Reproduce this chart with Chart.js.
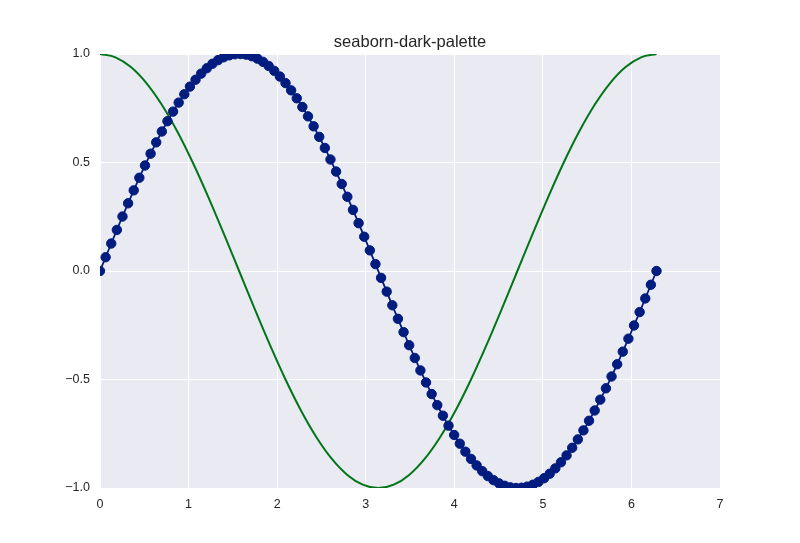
<!DOCTYPE html>
<html>
<head>
<meta charset="utf-8">
<script src="https://cdn.jsdelivr.net/npm/chart.js@4/dist/chart.umd.min.js"></script>
<style>
  html, body { margin: 0; padding: 0; background: #ffffff; }
  #wrap { width: 800px; height: 543px; }
</style>
</head>
<body>
<div id="wrap"><canvas id="chartSin" width="800" height="543"></canvas></div>
<script>
// ── DATA ─────────────────────────────────────────────────────────
const titleText = "seaborn-dark-palette";

const xTickLabels = ["0", "1", "2", "3", "4", "5", "6", "7"];
const yTickLabels = { "-1": "\u22121.0", "-0.5": "\u22120.5", "0": "0.0", "0.5": "0.5", "1": "1.0" };

// blue series with markers
const sinX = [
  0, 0.0635, 0.1269, 0.1904, 0.2539, 0.3173, 0.3808, 0.4443, 0.5077, 0.5712,
  0.6347, 0.6981, 0.7616, 0.8251, 0.8885, 0.9520, 1.0155, 1.0789, 1.1424, 1.2059,
  1.2693, 1.3328, 1.3963, 1.4597, 1.5232, 1.5867, 1.6501, 1.7136, 1.7771, 1.8405,
  1.9040, 1.9675, 2.0309, 2.0944, 2.1579, 2.2213, 2.2848, 2.3483, 2.4117, 2.4752,
  2.5387, 2.6021, 2.6656, 2.7291, 2.7925, 2.8560, 2.9195, 2.9829, 3.0464, 3.1099,
  3.1733, 3.2368, 3.3003, 3.3637, 3.4272, 3.4907, 3.5541, 3.6176, 3.6811, 3.7445,
  3.8080, 3.8715, 3.9349, 3.9984, 4.0619, 4.1253, 4.1888, 4.2523, 4.3157, 4.3792,
  4.4427, 4.5061, 4.5696, 4.6331, 4.6965, 4.7600, 4.8235, 4.8869, 4.9504, 5.0139,
  5.0773, 5.1408, 5.2043, 5.2677, 5.3312, 5.3947, 5.4581, 5.5216, 5.5851, 5.6485,
  5.7120, 5.7755, 5.8389, 5.9024, 5.9659, 6.0293, 6.0928, 6.1563, 6.2197, 6.2832,
];
const sinY = [
  0, 0.0634, 0.1266, 0.1893, 0.2511, 0.3120, 0.3717, 0.4298, 0.4862, 0.5406,
  0.5929, 0.6428, 0.6901, 0.7346, 0.7761, 0.8146, 0.8497, 0.8815, 0.9096, 0.9342,
  0.9549, 0.9718, 0.9848, 0.9938, 0.9989, 0.9999, 0.9969, 0.9898, 0.9788, 0.9638,
  0.9450, 0.9224, 0.8960, 0.8660, 0.8326, 0.7958, 0.7557, 0.7127, 0.6668, 0.6182,
  0.5671, 0.5137, 0.4582, 0.4009, 0.3420, 0.2817, 0.2203, 0.1580, 0.0951, 0.0317,
  -0.0317, -0.0951, -0.1580, -0.2203, -0.2817, -0.3420, -0.4009, -0.4582, -0.5137, -0.5671,
  -0.6182, -0.6668, -0.7127, -0.7557, -0.7958, -0.8326, -0.8660, -0.8960, -0.9224, -0.9450,
  -0.9638, -0.9788, -0.9898, -0.9969, -0.9999, -0.9989, -0.9938, -0.9848, -0.9718, -0.9549,
  -0.9342, -0.9096, -0.8815, -0.8497, -0.8146, -0.7761, -0.7346, -0.6901, -0.6428, -0.5929,
  -0.5406, -0.4862, -0.4298, -0.3717, -0.3120, -0.2511, -0.1893, -0.1266, -0.0634, 0,
];

// green series, plain line
const cosX = [
  0, 0.1745, 0.3491, 0.5236, 0.6981, 0.8727, 1.0472, 1.2217, 1.3963, 1.5708,
  1.7453, 1.9199, 2.0944, 2.2689, 2.4435, 2.6180, 2.7925, 2.9671, 3.1416, 3.3161,
  3.4907, 3.6652, 3.8397, 4.0143, 4.1888, 4.3633, 4.5379, 4.7124, 4.8869, 5.0615,
  5.2360, 5.4105, 5.5851, 5.7596, 5.9341, 6.1087, 6.2832,
];
const cosY = [
  1, 0.9848, 0.9397, 0.8660, 0.7660, 0.6428, 0.5000, 0.3420, 0.1736, 0,
  -0.1736, -0.3420, -0.5000, -0.6428, -0.7660, -0.8660, -0.9397, -0.9848, -1, -0.9848,
  -0.9397, -0.8660, -0.7660, -0.6428, -0.5000, -0.3420, -0.1736, 0, 0.1736, 0.3420,
  0.5000, 0.6428, 0.7660, 0.8660, 0.9397, 0.9848, 1,
];

// ── STYLE ────────────────────────────────────────────────────────
const BLUE  = "#001C7F";
const GREEN = "#017517";
const PANEL = "#EAEAF2";
const TEXT  = "#262626";
const FONT  = "'Liberation Sans', Arial, sans-serif";

Chart.defaults.font.family = FONT;
Chart.defaults.color = TEXT;

// panel background + title centred over the axes
const panelPlugin = {
  id: "panel",
  beforeDraw(chart) {
    const { ctx, chartArea: a } = chart;
    ctx.save();
    ctx.fillStyle = PANEL;
    ctx.fillRect(a.left, a.top, a.right - a.left, a.bottom - a.top);
    ctx.restore();
  },
  afterDraw(chart) {
    const { ctx, chartArea: a } = chart;
    ctx.save();
    ctx.fillStyle = TEXT;
    ctx.font = "16.5px " + FONT;
    ctx.textAlign = "center";
    ctx.textBaseline = "alphabetic";
    ctx.fillText(titleText, (a.left + a.right) / 2, a.top - 7);
    ctx.restore();
  },
};

const ctx = document.getElementById("chartSin").getContext("2d");

new Chart(ctx, {
  type: "line",
  data: {
    datasets: [
      {
        data: sinX.map((x, i) => ({ x, y: sinY[i] })),
        borderColor: BLUE,
        backgroundColor: BLUE,
        borderWidth: 1.8,
        pointRadius: 4.7,
        pointBorderWidth: 1,
        pointBackgroundColor: BLUE,
        pointBorderColor: BLUE,
        tension: 0,
        clip: 0,
        order: 1,
      },
      {
        data: cosX.map((x, i) => ({ x, y: cosY[i] })),
        borderColor: GREEN,
        borderWidth: 2,
        pointRadius: 0,
        cubicInterpolationMode: "monotone",
        clip: 0,
        order: 2,
      },
    ],
  },
  plugins: [panelPlugin],
  options: {
    responsive: false,
    animation: false,
    layout: { padding: { left: 0, top: 54, right: 80, bottom: 0 } },
    plugins: {
      legend: { display: false },
      tooltip: { enabled: false },
      title: { display: false },
    },
    scales: {
      x: {
        type: "linear",
        min: 0,
        max: 7,
        afterFit: s => { s.height = 55; },
        grid: { color: "#ffffff", lineWidth: 1, drawTicks: false },
        border: { display: false },
        ticks: {
          stepSize: 1,
          padding: 9,
          color: TEXT,
          font: { size: 12.5 },
          callback: v => xTickLabels[v],
        },
      },
      y: {
        type: "linear",
        min: -1,
        max: 1,
        afterFit: s => { s.width = 100; },
        grid: { color: "#ffffff", lineWidth: 1, drawTicks: false },
        border: { display: false },
        ticks: {
          stepSize: 0.5,
          padding: 10,
          color: TEXT,
          font: { size: 12.5 },
          callback: v => yTickLabels[String(v)],
        },
      },
    },
  },
});
</script>
</body>
</html>
